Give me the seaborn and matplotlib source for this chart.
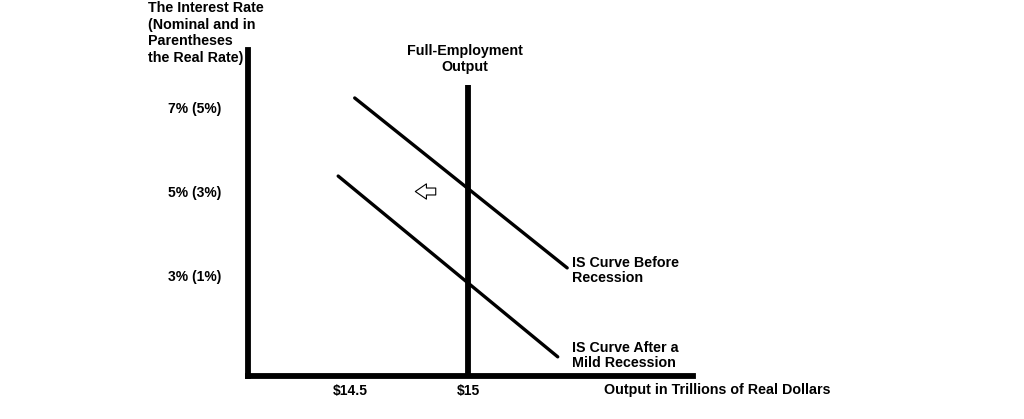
import numpy as np
import pandas as pd
import matplotlib.pyplot as plt
import seaborn as sns

# IS curves (output in trillions, interest rate in %)
before_x = [14.52, 15.42]
before_y = [7.24, 3.17]
after_x = [14.45, 15.38]
after_y = [5.37, 1.04]
full_employment = 15.0

ytick_pos = [7, 5, 3]
ytick_labels = ['7% (5%)', '5% (3%)', '3% (1%)']
xtick_pos = [14.5, 15.0]
xtick_labels = ['$14.5', '$15']

curves = pd.DataFrame({
    'output': before_x + after_x,
    'rate': before_y + after_y,
    'curve': ['before'] * 2 + ['after'] * 2,
})

sns.set_style('white')
plt.rcParams['font.family'] = ['Liberation Sans', 'DejaVu Sans']
plt.rcParams['font.weight'] = 'bold'
plt.rcParams['text.color'] = 'black'
plt.rcParams['xtick.color'] = 'black'
plt.rcParams['ytick.color'] = 'black'

fs = 10.3

fig = plt.figure(figsize=(10.24, 4.19), dpi=100)
ax = fig.add_axes([248 / 1024, 43 / 419, 445 / 1024, 326 / 419])

sns.lineplot(data=curves, x='output', y='rate', units='curve', estimator=None,
             color='black', lw=2.4, ax=ax, legend=False)
ax.plot([full_employment, full_employment], [0.58, 7.55], color='black', lw=4.2,
        clip_on=False, solid_capstyle='butt')

ax.set_xlim(14.068, 15.953)
ax.set_ylim(0.581, 8.389)
sns.despine(ax=ax)
for s in ['left', 'bottom']:
    ax.spines[s].set_linewidth(4.2)
    ax.spines[s].set_color('black')

ax.set_yticks(ytick_pos)
ax.set_yticklabels(ytick_labels, fontsize=fs - 0.3, fontweight='bold')
ax.set_xticks(xtick_pos)
ax.set_xticklabels(xtick_labels, fontsize=fs - 0.3, fontweight='bold')
ax.tick_params(axis='y', length=0, pad=19)
ax.tick_params(axis='x', length=0, pad=5.5)
ax.set_xlabel('')
ax.set_ylabel('')

# shift arrow
ax.annotate('', xy=(14.765, 5.0), xytext=(14.875, 5.0),
            arrowprops=dict(arrowstyle='simple,head_length=0.8,head_width=1.1,tail_width=0.5',
                            fc='white', ec='black', lw=0.8))

ax.text(15.44, 3.1, 'IS Curve Before\nRecession', fontsize=fs, fontweight='bold',
        va='center', ha='left', linespacing=1.1, clip_on=False)
ax.text(15.44, 1.08, 'IS Curve After a\nMild Recession', fontsize=fs, fontweight='bold',
        va='center', ha='left', linespacing=1.1, clip_on=False)
ax.text(14.985, 8.17, 'Full-Employment\nOutput', fontsize=fs, fontweight='bold',
        va='center', ha='center', linespacing=1.15, clip_on=False)

fig.text(604 / 1024, 1 - 390 / 419, 'Output in Trillions of Real Dollars', fontsize=fs,
         fontweight='bold', va='center', ha='left')
fig.text(148 / 1024, 1 - 1 / 419, 'The Interest Rate\n(Nominal and in\nParentheses\nthe Real Rate)',
         fontsize=fs, fontweight='bold', va='top', ha='left', linespacing=1.24)

fig.savefig('out.png', dpi=100)
